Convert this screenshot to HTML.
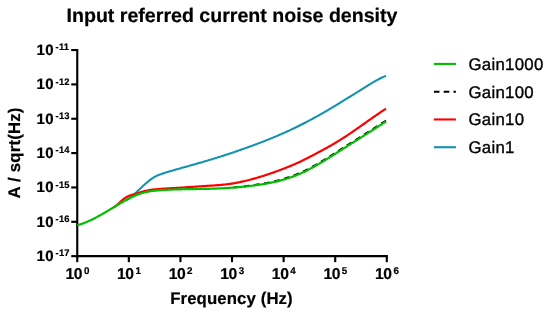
<!DOCTYPE html>
<html><head><meta charset="utf-8"><title>Input referred current noise density</title>
<style>
html,body{margin:0;padding:0;background:#fff;}
svg{display:block;}
text{text-rendering:geometricPrecision;}
</style></head>
<body>
<svg width="550" height="313" viewBox="0 0 550 313">
<rect width="550" height="313" fill="#fff"/>
<g stroke="#000" stroke-width="2.15" fill="none" stroke-linecap="butt">
<path d="M77.25,48.97 V262.15"/>
<path d="M76.17,256.15 H387.88"/>
<path d="M71.25,50.05 H77.25"/>
<path d="M71.25,84.40 H77.25"/>
<path d="M71.25,118.75 H77.25"/>
<path d="M71.25,153.10 H77.25"/>
<path d="M71.25,187.45 H77.25"/>
<path d="M71.25,221.80 H77.25"/>
<path d="M71.25,256.15 H77.25"/>
<path d="M128.84,256.15 V262.15"/>
<path d="M180.43,256.15 V262.15"/>
<path d="M232.03,256.15 V262.15"/>
<path d="M283.62,256.15 V262.15"/>
<path d="M335.21,256.15 V262.15"/>
<path d="M386.80,256.15 V262.15"/>
</g>
<g fill="none" stroke-width="2.2" stroke-linejoin="round">
<path d="M126.2,199.99 L127.2,199.45 L128.2,198.85 L129.2,198.18 L130.2,197.46 L131.2,196.69 L132.2,195.89 L133.2,195.05 L134.2,194.19 L135.2,193.30 L136.2,192.39 L137.2,191.46 L138.2,190.53 L139.2,189.59 L140.2,188.64 L141.2,187.70 L142.2,186.76 L143.2,185.83 L144.2,184.91 L145.2,184.01 L146.2,183.12 L147.2,182.26 L148.2,181.43 L149.2,180.62 L150.2,179.84 L151.2,179.11 L152.2,178.41 L153.2,177.75 L154.2,177.14 L155.1,176.58 L156.1,176.08 L157.1,175.62 L158.1,175.20 L159.1,174.81 L160.1,174.45 L161.1,174.10 L162.1,173.76 L163.1,173.42 L164.1,173.09 L165.1,172.77 L166.1,172.45 L167.1,172.14 L168.1,171.84 L169.1,171.53 L170.1,171.24 L171.1,170.94 L172.1,170.65 L173.1,170.36 L174.1,170.08 L175.1,169.79 L176.1,169.51 L177.1,169.23 L178.1,168.95 L179.1,168.67 L180.1,168.39 L181.1,168.11 L182.1,167.83 L183.1,167.55 L184.1,167.27 L185.1,166.99 L186.1,166.71 L187.1,166.43 L188.1,166.15 L189.1,165.86 L190.1,165.58 L191.1,165.30 L192.1,165.02 L193.1,164.74 L194.1,164.45 L195.1,164.17 L196.1,163.89 L197.1,163.60 L198.1,163.31 L199.1,163.03 L200.1,162.74 L201.1,162.45 L202.1,162.16 L203.1,161.87 L204.1,161.58 L205.1,161.28 L206.1,160.99 L207.1,160.69 L208.1,160.39 L209.1,160.09 L210.1,159.79 L211.1,159.49 L212.1,159.19 L213.1,158.88 L214.1,158.57 L215.1,158.27 L216.1,157.96 L217.1,157.64 L218.1,157.33 L219.1,157.01 L220.1,156.70 L221.1,156.38 L222.1,156.06 L223.1,155.74 L224.1,155.41 L225.1,155.09 L226.1,154.76 L227.1,154.44 L228.1,154.11 L229.1,153.78 L230.1,153.44 L231.1,153.11 L232.1,152.77 L233.1,152.44 L234.1,152.10 L235.1,151.76 L236.1,151.41 L237.1,151.07 L238.1,150.73 L239.1,150.38 L240.1,150.03 L241.1,149.68 L242.1,149.33 L243.1,148.98 L244.1,148.62 L245.1,148.27 L246.1,147.91 L247.1,147.55 L248.1,147.19 L249.1,146.83 L250.1,146.46 L251.1,146.10 L252.1,145.73 L253.1,145.37 L254.1,145.00 L255.1,144.62 L256.1,144.25 L257.1,143.88 L258.1,143.50 L259.1,143.12 L260.1,142.74 L261.1,142.36 L262.1,141.98 L263.1,141.59 L264.1,141.20 L265.1,140.81 L266.1,140.42 L267.1,140.02 L268.1,139.63 L269.1,139.22 L270.1,138.82 L271.1,138.41 L272.1,138.00 L273.1,137.59 L274.1,137.17 L275.1,136.75 L276.1,136.33 L277.1,135.91 L278.1,135.48 L279.1,135.05 L280.1,134.61 L281.1,134.18 L282.1,133.74 L283.1,133.29 L284.1,132.85 L285.1,132.40 L286.1,131.95 L287.1,131.49 L288.1,131.04 L289.1,130.58 L290.1,130.11 L291.1,129.64 L292.1,129.17 L293.1,128.70 L294.1,128.22 L295.1,127.74 L296.1,127.25 L297.1,126.77 L298.1,126.27 L299.1,125.78 L300.1,125.28 L301.1,124.78 L302.1,124.27 L303.1,123.76 L304.1,123.25 L305.1,122.74 L306.1,122.22 L307.1,121.70 L308.1,121.18 L309.0,120.65 L310.0,120.13 L311.0,119.60 L312.0,119.06 L313.0,118.53 L314.0,117.99 L315.0,117.44 L316.0,116.90 L317.0,116.35 L318.0,115.80 L319.0,115.24 L320.0,114.68 L321.0,114.12 L322.0,113.55 L323.0,112.98 L324.0,112.41 L325.0,111.83 L326.0,111.25 L327.0,110.67 L328.0,110.08 L329.0,109.49 L330.0,108.89 L331.0,108.29 L332.0,107.69 L333.0,107.08 L334.0,106.48 L335.0,105.87 L336.0,105.26 L337.0,104.64 L338.0,104.03 L339.0,103.41 L340.0,102.80 L341.0,102.18 L342.0,101.56 L343.0,100.95 L344.0,100.33 L345.0,99.71 L346.0,99.10 L347.0,98.48 L348.0,97.86 L349.0,97.25 L350.0,96.63 L351.0,96.01 L352.0,95.39 L353.0,94.77 L354.0,94.15 L355.0,93.54 L356.0,92.92 L357.0,92.30 L358.0,91.68 L359.0,91.05 L360.0,90.43 L361.0,89.81 L362.0,89.19 L363.0,88.57 L364.0,87.94 L365.0,87.32 L366.0,86.69 L367.0,86.07 L368.0,85.45 L369.0,84.82 L370.0,84.21 L371.0,83.59 L372.0,82.99 L373.0,82.39 L374.0,81.80 L375.0,81.22 L376.0,80.65 L377.0,80.09 L378.0,79.55 L379.0,79.02 L380.0,78.50 L381.0,78.01 L382.0,77.53 L383.0,77.07 L384.0,76.63 L385.0,76.22 L386.0,75.83" stroke="#1292ae" stroke-width="2.05"/>
<path d="M113.2,207.58 L114.2,206.97 L115.2,206.30 L116.2,205.58 L117.2,204.80 L118.2,203.95 L119.2,203.04 L120.2,202.10 L121.2,201.16 L122.2,200.25 L123.2,199.37 L124.2,198.58 L125.2,197.87 L126.2,197.25 L127.2,196.71 L128.2,196.23 L129.2,195.82 L130.2,195.45 L131.2,195.12 L132.2,194.81 L133.2,194.53 L134.2,194.24 L135.2,193.96 L136.2,193.66 L137.2,193.35 L138.2,193.02 L139.2,192.69 L140.2,192.37 L141.2,192.05 L142.2,191.74 L143.2,191.45 L144.2,191.18 L145.2,190.93 L146.2,190.70 L147.2,190.49 L148.2,190.30 L149.2,190.12 L150.2,189.95 L151.2,189.80 L152.2,189.67 L153.2,189.54 L154.2,189.43 L155.1,189.32 L156.1,189.22 L157.1,189.14 L158.1,189.05 L159.1,188.98 L160.1,188.90 L161.1,188.83 L162.1,188.77 L163.1,188.70 L164.1,188.64 L165.1,188.58 L166.1,188.52 L167.1,188.46 L168.1,188.40 L169.1,188.34 L170.1,188.28 L171.1,188.22 L172.1,188.16 L173.1,188.10 L174.1,188.04 L175.1,187.98 L176.1,187.92 L177.1,187.86 L178.1,187.80 L179.1,187.73 L180.1,187.67 L181.1,187.61 L182.1,187.54 L183.1,187.48 L184.1,187.41 L185.1,187.35 L186.1,187.28 L187.1,187.22 L188.1,187.15 L189.1,187.09 L190.1,187.02 L191.1,186.95 L192.1,186.89 L193.1,186.82 L194.1,186.75 L195.1,186.69 L196.1,186.62 L197.1,186.56 L198.1,186.49 L199.1,186.42 L200.1,186.36 L201.1,186.29 L202.1,186.22 L203.1,186.16 L204.1,186.09 L205.1,186.03 L206.1,185.96 L207.1,185.90 L208.1,185.83 L209.1,185.77 L210.1,185.70 L211.1,185.64 L212.1,185.57 L213.1,185.50 L214.1,185.44 L215.1,185.37 L216.1,185.29 L217.1,185.22 L218.1,185.14 L219.1,185.06 L220.1,184.98 L221.1,184.89 L222.1,184.80 L223.1,184.70 L224.1,184.60 L225.1,184.49 L226.1,184.38 L227.1,184.26 L228.1,184.13 L229.1,184.00 L230.1,183.86 L231.1,183.71 L232.1,183.56 L233.1,183.40 L234.1,183.23 L235.1,183.06 L236.1,182.88 L237.1,182.69 L238.1,182.49 L239.1,182.29 L240.1,182.09 L241.1,181.87 L242.1,181.66 L243.1,181.43 L244.1,181.20 L245.1,180.97 L246.1,180.73 L247.1,180.48 L248.1,180.23 L249.1,179.97 L250.1,179.71 L251.1,179.45 L252.1,179.18 L253.1,178.90 L254.1,178.62 L255.1,178.34 L256.1,178.05 L257.1,177.76 L258.1,177.47 L259.1,177.17 L260.1,176.87 L261.1,176.56 L262.1,176.25 L263.1,175.94 L264.1,175.62 L265.1,175.30 L266.1,174.98 L267.1,174.65 L268.1,174.31 L269.1,173.98 L270.1,173.64 L271.1,173.30 L272.1,172.95 L273.1,172.60 L274.1,172.25 L275.1,171.89 L276.1,171.53 L277.1,171.16 L278.1,170.80 L279.1,170.43 L280.1,170.05 L281.1,169.67 L282.1,169.29 L283.1,168.91 L284.1,168.52 L285.1,168.13 L286.1,167.73 L287.1,167.34 L288.1,166.93 L289.1,166.52 L290.1,166.11 L291.1,165.69 L292.1,165.27 L293.1,164.84 L294.1,164.41 L295.1,163.97 L296.1,163.53 L297.1,163.08 L298.1,162.63 L299.1,162.17 L300.1,161.70 L301.1,161.23 L302.1,160.75 L303.1,160.27 L304.1,159.78 L305.1,159.28 L306.1,158.79 L307.1,158.28 L308.1,157.78 L309.0,157.27 L310.0,156.75 L311.0,156.24 L312.0,155.72 L313.0,155.19 L314.0,154.67 L315.0,154.15 L316.0,153.62 L317.0,153.09 L318.0,152.56 L319.0,152.03 L320.0,151.49 L321.0,150.96 L322.0,150.42 L323.0,149.88 L324.0,149.33 L325.0,148.79 L326.0,148.24 L327.0,147.68 L328.0,147.12 L329.0,146.56 L330.0,146.00 L331.0,145.43 L332.0,144.85 L333.0,144.27 L334.0,143.69 L335.0,143.10 L336.0,142.50 L337.0,141.90 L338.0,141.29 L339.0,140.68 L340.0,140.06 L341.0,139.44 L342.0,138.80 L343.0,138.17 L344.0,137.52 L345.0,136.87 L346.0,136.21 L347.0,135.55 L348.0,134.89 L349.0,134.21 L350.0,133.54 L351.0,132.86 L352.0,132.18 L353.0,131.49 L354.0,130.80 L355.0,130.10 L356.0,129.41 L357.0,128.71 L358.0,128.01 L359.0,127.30 L360.0,126.60 L361.0,125.89 L362.0,125.19 L363.0,124.48 L364.0,123.77 L365.0,123.06 L366.0,122.36 L367.0,121.65 L368.0,120.94 L369.0,120.24 L370.0,119.53 L371.0,118.83 L372.0,118.13 L373.0,117.43 L374.0,116.73 L375.0,116.04 L376.0,115.34 L377.0,114.66 L378.0,113.97 L379.0,113.29 L380.0,112.61 L381.0,111.94 L382.0,111.27 L383.0,110.61 L384.0,109.95 L385.0,109.30 L386.0,108.66" stroke="#ff0000"/>
<path d="M230.1,187.77 L231.1,187.67 L232.1,187.57 L233.1,187.47 L234.1,187.37 L235.1,187.26 L236.1,187.15 L237.1,187.04 L238.1,186.92 L239.1,186.81 L240.1,186.69 L241.1,186.59 L242.1,186.49 L243.1,186.39 L244.1,186.28 L245.1,186.17 L246.1,186.06 L247.1,185.94 L248.1,185.82 L249.1,185.70 L250.1,185.57 L251.1,185.45 L252.1,185.32 L253.1,185.18 L254.1,185.04 L255.1,184.90 L256.1,184.76 L257.1,184.61 L258.1,184.46 L259.1,184.31 L260.1,184.15 L261.1,183.99 L262.1,183.82 L263.1,183.65 L264.1,183.48 L265.1,183.30 L266.1,183.11 L267.1,182.92 L268.1,182.72 L269.1,182.51 L270.1,182.30 L271.1,182.09 L272.1,181.87 L273.1,181.64 L274.1,181.41 L275.1,181.17 L276.1,180.93 L277.1,180.68 L278.1,180.42 L279.1,180.16 L280.1,179.89 L281.1,179.61 L282.1,179.32 L283.1,179.03 L284.1,178.74 L285.1,178.43 L286.1,178.11 L287.1,177.79 L288.1,177.46 L289.1,177.12 L290.1,176.78 L291.1,176.43 L292.1,176.08 L293.1,175.72 L294.1,175.35 L295.1,174.96 L296.1,174.57 L297.1,174.17 L298.1,173.76 L299.1,173.34 L300.1,172.91 L301.1,172.47 L302.1,172.01 L303.1,171.55 L304.1,171.08 L305.1,170.60 L306.1,170.11 L307.1,169.61 L308.1,169.10 L309.0,168.58 L310.0,168.06 L311.0,167.52 L312.0,166.98 L313.0,166.44 L314.0,165.88 L315.0,165.32 L316.0,164.75 L317.0,164.18 L318.0,163.60 L319.0,163.01 L320.0,162.42 L321.0,161.83 L322.0,161.23 L323.0,160.62 L324.0,160.01 L325.0,159.40 L326.0,158.78 L327.0,158.16 L328.0,157.54 L329.0,156.91 L330.0,156.28 L331.0,155.65 L332.0,155.02 L333.0,154.38 L334.0,153.75 L335.0,153.11 L336.0,152.47 L337.0,151.83 L338.0,151.19 L339.0,150.56 L340.0,149.92 L341.0,149.28 L342.0,148.64 L343.0,148.00 L344.0,147.37 L345.0,146.73 L346.0,146.10 L347.0,145.46 L348.0,144.83 L349.0,144.19 L350.0,143.56 L351.0,142.93 L352.0,142.29 L353.0,141.66 L354.0,141.03 L355.0,140.40 L356.0,139.76 L357.0,139.13 L358.0,138.50 L359.0,137.87 L360.0,137.23 L361.0,136.60 L362.0,135.97 L363.0,135.34 L364.0,134.70 L365.0,134.07 L366.0,133.44 L367.0,132.80 L368.0,132.17 L369.0,131.53 L370.0,130.90 L371.0,130.26 L372.0,129.62 L373.0,128.98 L374.0,128.34 L375.0,127.70 L376.0,127.06 L377.0,126.42 L378.0,125.78 L379.0,125.13 L380.0,124.49 L381.0,123.84 L382.0,123.20 L383.0,122.55 L384.0,121.90 L385.0,121.25 L386.0,120.60" stroke="#000" stroke-width="2" stroke-dasharray="5.7 4.5" stroke-dashoffset="6.5"/>
<path d="M77.2,225.30 L78.2,225.02 L79.2,224.72 L80.2,224.41 L81.2,224.08 L82.2,223.73 L83.2,223.36 L84.2,222.98 L85.2,222.59 L86.2,222.18 L87.2,221.76 L88.2,221.32 L89.2,220.87 L90.2,220.41 L91.2,219.93 L92.2,219.45 L93.2,218.95 L94.2,218.45 L95.2,217.93 L96.2,217.40 L97.2,216.87 L98.2,216.33 L99.2,215.78 L100.2,215.22 L101.2,214.66 L102.2,214.09 L103.2,213.51 L104.2,212.93 L105.2,212.35 L106.2,211.76 L107.2,211.17 L108.2,210.57 L109.2,209.98 L110.2,209.38 L111.2,208.78 L112.2,208.18 L113.2,207.58 L114.2,206.97 L115.2,206.37 L116.2,205.78 L117.2,205.18 L118.2,204.58 L119.2,203.99 L120.2,203.40 L121.2,202.82 L122.2,202.24 L123.2,201.67 L124.2,201.10 L125.2,200.54 L126.2,199.99 L127.2,199.45 L128.2,198.92 L129.2,198.40 L130.2,197.89 L131.2,197.39 L132.2,196.91 L133.2,196.44 L134.2,195.99 L135.2,195.55 L136.2,195.13 L137.2,194.73 L138.2,194.35 L139.2,193.98 L140.2,193.64 L141.2,193.32 L142.2,193.02 L143.2,192.74 L144.2,192.48 L145.2,192.24 L146.2,192.02 L147.2,191.81 L148.2,191.62 L149.2,191.44 L150.2,191.28 L151.2,191.13 L152.2,190.99 L153.2,190.86 L154.2,190.74 L155.1,190.64 L156.1,190.54 L157.1,190.45 L158.1,190.36 L159.1,190.28 L160.1,190.21 L161.1,190.14 L162.1,190.07 L163.1,190.01 L164.1,189.95 L165.1,189.89 L166.1,189.84 L167.1,189.78 L168.1,189.73 L169.1,189.69 L170.1,189.64 L171.1,189.60 L172.1,189.56 L173.1,189.52 L174.1,189.49 L175.1,189.46 L176.1,189.42 L177.1,189.39 L178.1,189.37 L179.1,189.34 L180.1,189.31 L181.1,189.29 L182.1,189.27 L183.1,189.25 L184.1,189.23 L185.1,189.21 L186.1,189.19 L187.1,189.17 L188.1,189.15 L189.1,189.14 L190.1,189.12 L191.1,189.11 L192.1,189.09 L193.1,189.07 L194.1,189.06 L195.1,189.04 L196.1,189.03 L197.1,189.01 L198.1,189.00 L199.1,188.98 L200.1,188.97 L201.1,188.95 L202.1,188.93 L203.1,188.91 L204.1,188.89 L205.1,188.87 L206.1,188.85 L207.1,188.83 L208.1,188.80 L209.1,188.78 L210.1,188.75 L211.1,188.72 L212.1,188.69 L213.1,188.66 L214.1,188.63 L215.1,188.59 L216.1,188.55 L217.1,188.52 L218.1,188.47 L219.1,188.43 L220.1,188.39 L221.1,188.34 L222.1,188.29 L223.1,188.24 L224.1,188.19 L225.1,188.14 L226.1,188.08 L227.1,188.02 L228.1,187.96 L229.1,187.90 L230.1,187.83 L231.1,187.76 L232.1,187.69 L233.1,187.62 L234.1,187.54 L235.1,187.47 L236.1,187.39 L237.1,187.30 L238.1,187.22 L239.1,187.13 L240.1,187.04 L241.1,186.95 L242.1,186.85 L243.1,186.75 L244.1,186.65 L245.1,186.55 L246.1,186.44 L247.1,186.33 L248.1,186.22 L249.1,186.10 L250.1,185.98 L251.1,185.86 L252.1,185.74 L253.1,185.61 L254.1,185.48 L255.1,185.34 L256.1,185.21 L257.1,185.07 L258.1,184.92 L259.1,184.77 L260.1,184.62 L261.1,184.47 L262.1,184.31 L263.1,184.14 L264.1,183.97 L265.1,183.80 L266.1,183.62 L267.1,183.44 L268.1,183.25 L269.1,183.06 L270.1,182.86 L271.1,182.66 L272.1,182.45 L273.1,182.24 L274.1,182.02 L275.1,181.79 L276.1,181.56 L277.1,181.32 L278.1,181.08 L279.1,180.83 L280.1,180.57 L281.1,180.30 L282.1,180.03 L283.1,179.75 L284.1,179.46 L285.1,179.17 L286.1,178.87 L287.1,178.56 L288.1,178.24 L289.1,177.91 L290.1,177.58 L291.1,177.23 L292.1,176.88 L293.1,176.52 L294.1,176.15 L295.1,175.77 L296.1,175.38 L297.1,174.98 L298.1,174.57 L299.1,174.15 L300.1,173.72 L301.1,173.28 L302.1,172.82 L303.1,172.36 L304.1,171.89 L305.1,171.41 L306.1,170.92 L307.1,170.42 L308.1,169.91 L309.0,169.40 L310.0,168.87 L311.0,168.34 L312.0,167.80 L313.0,167.26 L314.0,166.70 L315.0,166.14 L316.0,165.58 L317.0,165.00 L318.0,164.42 L319.0,163.84 L320.0,163.25 L321.0,162.65 L322.0,162.06 L323.0,161.45 L324.0,160.84 L325.0,160.23 L326.0,159.61 L327.0,159.00 L328.0,158.37 L329.0,157.75 L330.0,157.12 L331.0,156.49 L332.0,155.86 L333.0,155.22 L334.0,154.59 L335.0,153.95 L336.0,153.31 L337.0,152.68 L338.0,152.04 L339.0,151.40 L340.0,150.76 L341.0,150.12 L342.0,149.49 L343.0,148.85 L344.0,148.22 L345.0,147.58 L346.0,146.95 L347.0,146.31 L348.0,145.68 L349.0,145.05 L350.0,144.41 L351.0,143.78 L352.0,143.15 L353.0,142.52 L354.0,141.89 L355.0,141.25 L356.0,140.62 L357.0,139.99 L358.0,139.36 L359.0,138.73 L360.0,138.10 L361.0,137.47 L362.0,136.84 L363.0,136.20 L364.0,135.57 L365.0,134.94 L366.0,134.31 L367.0,133.67 L368.0,133.04 L369.0,132.40 L370.0,131.77 L371.0,131.13 L372.0,130.50 L373.0,129.86 L374.0,129.22 L375.0,128.58 L376.0,127.94 L377.0,127.30 L378.0,126.66 L379.0,126.02 L380.0,125.37 L381.0,124.73 L382.0,124.08 L383.0,123.43 L384.0,122.78 L385.0,122.13 L386.0,121.48" stroke="#00be00"/>
</g>
<g font-family="'Liberation Sans', sans-serif" font-weight="bold" fill="#000" stroke="#000" stroke-width="0.2">
<text x="36.6" y="54.90" font-size="15" letter-spacing="0.2">10<tspan dx="1.9" dy="-4.7" font-size="9.4">-11</tspan></text>
<text x="36.6" y="89.25" font-size="15" letter-spacing="0.2">10<tspan dx="1.9" dy="-4.7" font-size="9.4">-12</tspan></text>
<text x="36.6" y="123.60" font-size="15" letter-spacing="0.2">10<tspan dx="1.9" dy="-4.7" font-size="9.4">-13</tspan></text>
<text x="36.6" y="157.95" font-size="15" letter-spacing="0.2">10<tspan dx="1.9" dy="-4.7" font-size="9.4">-14</tspan></text>
<text x="36.6" y="192.30" font-size="15" letter-spacing="0.2">10<tspan dx="1.9" dy="-4.7" font-size="9.4">-15</tspan></text>
<text x="36.6" y="226.65" font-size="15" letter-spacing="0.2">10<tspan dx="1.9" dy="-4.7" font-size="9.4">-16</tspan></text>
<text x="36.6" y="261.00" font-size="15" letter-spacing="0.2">10<tspan dx="1.9" dy="-4.7" font-size="9.4">-17</tspan></text>
<text x="65.45" y="279.3" font-size="15.7" letter-spacing="-0.4">10<tspan dx="1.8" dy="-5.4" font-size="9.8" letter-spacing="0">0</tspan></text>
<text x="117.04" y="279.3" font-size="15.7" letter-spacing="-0.4">10<tspan dx="1.8" dy="-5.4" font-size="9.8" letter-spacing="0">1</tspan></text>
<text x="168.63" y="279.3" font-size="15.7" letter-spacing="-0.4">10<tspan dx="1.8" dy="-5.4" font-size="9.8" letter-spacing="0">2</tspan></text>
<text x="220.22" y="279.3" font-size="15.7" letter-spacing="-0.4">10<tspan dx="1.8" dy="-5.4" font-size="9.8" letter-spacing="0">3</tspan></text>
<text x="271.82" y="279.3" font-size="15.7" letter-spacing="-0.4">10<tspan dx="1.8" dy="-5.4" font-size="9.8" letter-spacing="0">4</tspan></text>
<text x="323.41" y="279.3" font-size="15.7" letter-spacing="-0.4">10<tspan dx="1.8" dy="-5.4" font-size="9.8" letter-spacing="0">5</tspan></text>
<text x="375.00" y="279.3" font-size="15.7" letter-spacing="-0.4">10<tspan dx="1.8" dy="-5.4" font-size="9.8" letter-spacing="0">6</tspan></text>
<text x="231.5" y="304.1" font-size="16.8" letter-spacing="0.1" text-anchor="middle">Frequency (Hz)</text>
<text transform="translate(20.4,152.9) rotate(-90)" font-size="16.8" letter-spacing="0.18" text-anchor="middle">A / sqrt(Hz)</text>
<text x="232.0" y="21.8" font-size="19.6" text-anchor="middle">Input referred current noise density</text>
</g>
<g font-family="'Liberation Sans', sans-serif" font-size="16.8" fill="#000">
<path d="M433.9,63.92 H455.9" stroke="#00be00" stroke-width="2.1" fill="none"/>
<text x="468.4" y="69.82" letter-spacing="0.3" stroke="#000" stroke-width="0.35">Gain1000</text>
<path d="M433.9,91.69 H455.9" stroke="#000" stroke-width="2.1" fill="none" stroke-dasharray="5.6 4.2"/>
<text x="468.4" y="97.59" letter-spacing="0.3" stroke="#000" stroke-width="0.35">Gain100</text>
<path d="M433.9,119.46 H455.9" stroke="#ff0000" stroke-width="2.1" fill="none"/>
<text x="468.4" y="125.36" letter-spacing="0.3" stroke="#000" stroke-width="0.35">Gain10</text>
<path d="M433.9,147.23 H455.9" stroke="#1292ae" stroke-width="2.1" fill="none"/>
<text x="468.4" y="153.13" letter-spacing="0.3" stroke="#000" stroke-width="0.35">Gain1</text>
</g>
</svg>
</body></html>
